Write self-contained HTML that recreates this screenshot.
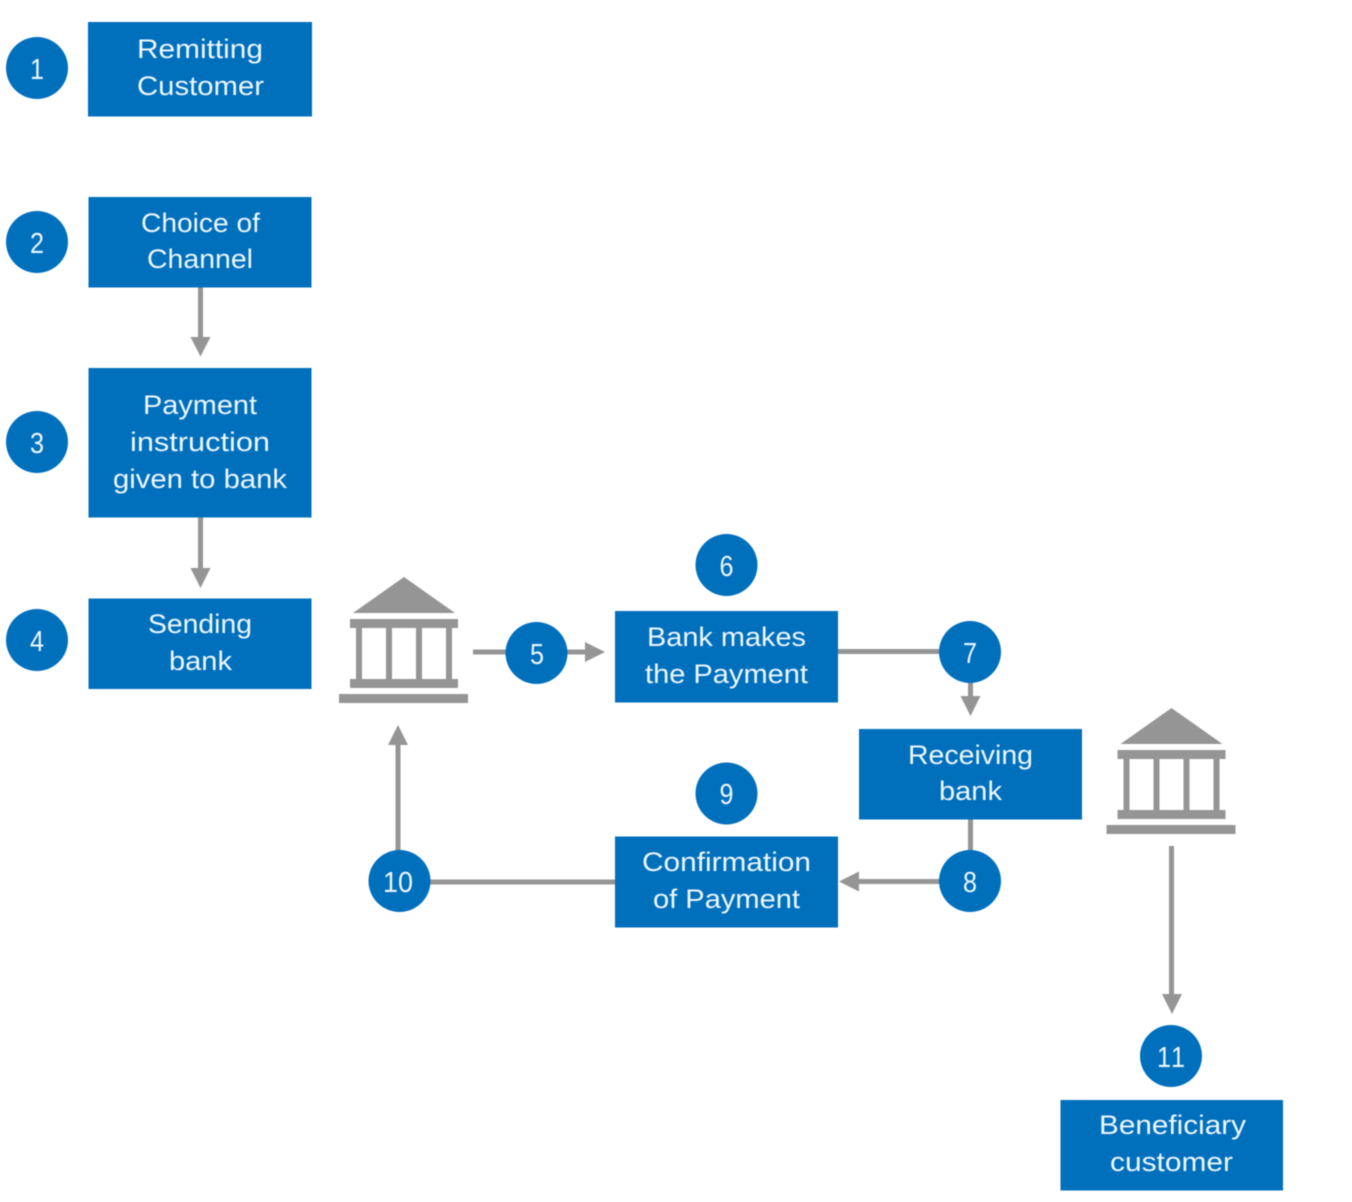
<!DOCTYPE html>
<html><head><meta charset="utf-8"><style>
html,body{margin:0;padding:0;background:#fff}
svg{display:block;filter:blur(.4px)}
text{font-family:"Liberation Sans",sans-serif;font-size:27px;fill:#eef6fb}
.n{text-anchor:middle;font-size:29px}
</style></head><body>
<svg width="1352" height="1202" viewBox="0 0 1352 1202" xmlns="http://www.w3.org/2000/svg">
<defs><g id="bank" fill="#959595">
<path d="M404 577L455 613H353Z"/>
<rect x="350" y="619" width="108" height="9"/>
<rect x="356" y="628" width="6" height="52"/><rect x="386" y="628" width="6" height="52"/><rect x="416" y="628" width="6" height="52"/><rect x="446" y="628" width="6" height="52"/>
<rect x="350" y="679" width="108" height="9"/>
<rect x="339" y="694" width="129" height="9"/>
</g></defs>
<g fill="none" stroke="#959595" stroke-width="5">
<path d="M200.500 287V340M200.500 517V570M473 652H590M838 651.500H970.500V698M970.500 819V881M970 881.500H855M615 882H399M398 881V744M1171.500 846V996"/>
</g>
<g fill="#959595">
<path d="M190.500 337H210.500L200.500 356.500Z"/><path d="M190.500 568H210.500L200.500 588Z"/>
<path d="M585 642L605 652L585 662Z"/><path d="M960.500 696H980.500L970.500 716Z"/>
<path d="M859 871.500L839 881.500L859 891.500Z"/><path d="M388 745L398 725L408 745Z"/>
<path d="M1162 994H1182L1172 1014Z"/>
</g>
<use href="#bank"/><use href="#bank" x="767.500" y="131"/>
<g fill="#0070bd">
<rect x="88" y="22" width="224" height="94.500"/><rect x="88.500" y="197" width="223" height="90.500"/><rect x="88.500" y="368" width="223" height="149.500"/><rect x="88.500" y="598.500" width="223" height="90.500"/>
<rect x="615" y="611" width="223" height="91.500"/><rect x="859" y="729" width="223" height="90.500"/><rect x="615" y="836.500" width="223" height="91"/><rect x="1060.500" y="1100" width="222.500" height="90.500"/>
<circle cx="37" cy="68" r="31"/><circle cx="37" cy="242" r="31"/><circle cx="37" cy="442" r="31"/><circle cx="37" cy="640" r="31"/>
<circle cx="536.500" cy="653" r="31"/><circle cx="726.500" cy="565" r="31"/><circle cx="970" cy="652" r="31"/><circle cx="970" cy="881" r="31"/>
<circle cx="726.500" cy="793.500" r="31"/><circle cx="399.500" cy="881" r="31"/><circle cx="1171" cy="1056" r="31"/>
</g>
<text x="137" y="58" textLength="126" lengthAdjust="spacingAndGlyphs">Remitting</text>
<text x="137" y="95" textLength="127" lengthAdjust="spacingAndGlyphs">Customer</text>
<text x="141" y="232" textLength="119" lengthAdjust="spacingAndGlyphs">Choice of</text>
<text x="147" y="268" textLength="106" lengthAdjust="spacingAndGlyphs">Channel</text>
<text x="143" y="414" textLength="114" lengthAdjust="spacingAndGlyphs">Payment</text>
<text x="130" y="451" textLength="140" lengthAdjust="spacingAndGlyphs">instruction</text>
<text x="113" y="488" textLength="174" lengthAdjust="spacingAndGlyphs">given to bank</text>
<text x="148" y="633" textLength="104" lengthAdjust="spacingAndGlyphs">Sending</text>
<text x="169" y="670" textLength="63" lengthAdjust="spacingAndGlyphs">bank</text>
<text x="647" y="646" textLength="159" lengthAdjust="spacingAndGlyphs">Bank makes</text>
<text x="645" y="683" textLength="163" lengthAdjust="spacingAndGlyphs">the Payment</text>
<text x="908" y="764" textLength="125" lengthAdjust="spacingAndGlyphs">Receiving</text>
<text x="939" y="800" textLength="63" lengthAdjust="spacingAndGlyphs">bank</text>
<text x="642" y="871" textLength="169" lengthAdjust="spacingAndGlyphs">Confirmation</text>
<text x="653" y="908" textLength="147" lengthAdjust="spacingAndGlyphs">of Payment</text>
<text x="1099" y="1134" textLength="147" lengthAdjust="spacingAndGlyphs">Beneficiary</text>
<text x="1110" y="1171" textLength="123" lengthAdjust="spacingAndGlyphs">customer</text>
<text class="n" x="37" y="79" textLength="14" lengthAdjust="spacingAndGlyphs">1</text><text class="n" x="37" y="253" textLength="14" lengthAdjust="spacingAndGlyphs">2</text><text class="n" x="37" y="453" textLength="14" lengthAdjust="spacingAndGlyphs">3</text><text class="n" x="37" y="651" textLength="14" lengthAdjust="spacingAndGlyphs">4</text>
<text class="n" x="537" y="664" textLength="14" lengthAdjust="spacingAndGlyphs">5</text><text class="n" x="726.500" y="576" textLength="14" lengthAdjust="spacingAndGlyphs">6</text><text class="n" x="970" y="663" textLength="14" lengthAdjust="spacingAndGlyphs">7</text><text class="n" x="970" y="892" textLength="14" lengthAdjust="spacingAndGlyphs">8</text>
<text class="n" x="726.500" y="804" textLength="14" lengthAdjust="spacingAndGlyphs">9</text><text class="n" x="398" y="892" textLength="30" lengthAdjust="spacingAndGlyphs">10</text><text class="n" x="1171" y="1067" style="font-kerning:none" textLength="28" lengthAdjust="spacingAndGlyphs">11</text>
</svg>
</body></html>
